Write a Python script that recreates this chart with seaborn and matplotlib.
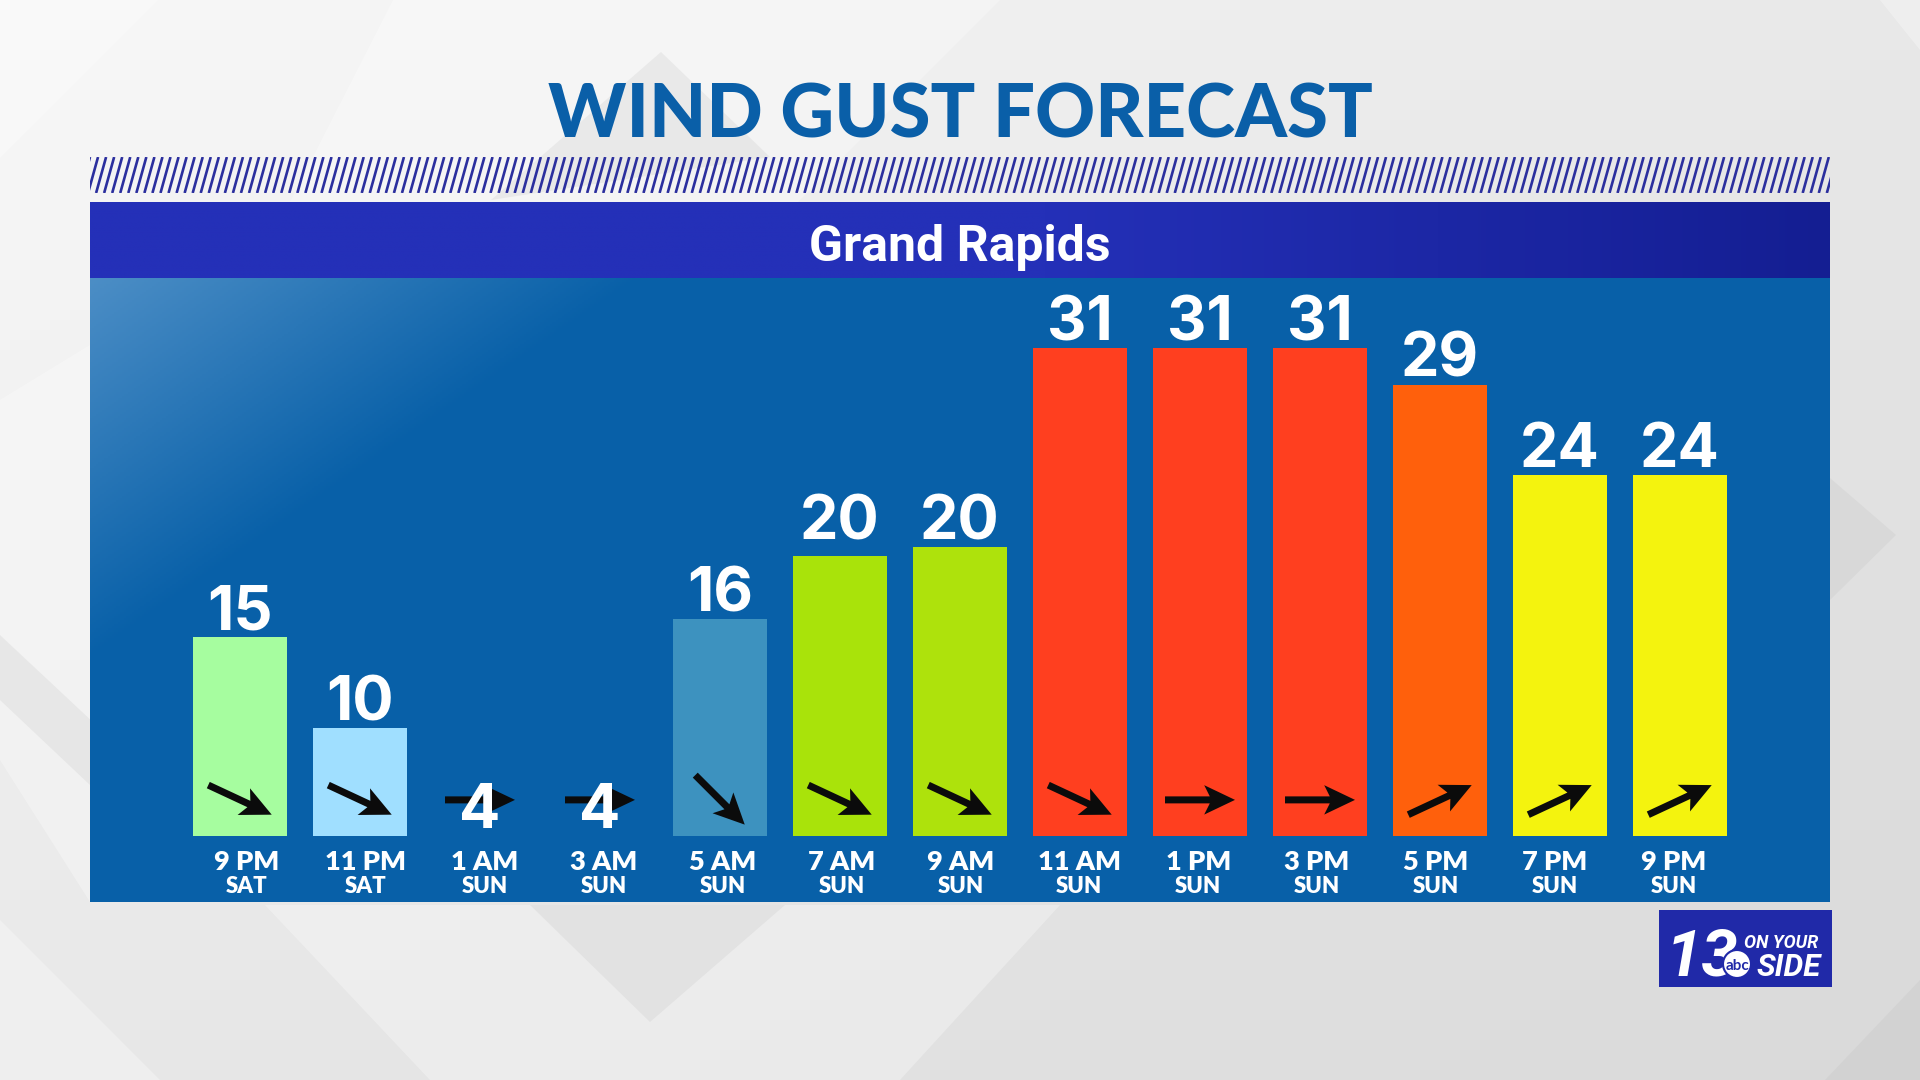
import numpy as np
import pandas as pd
import seaborn as sns
import matplotlib.pyplot as plt
from matplotlib.colors import to_rgb
from matplotlib.patches import Polygon, Rectangle, Circle

# Data
horas = ['9 PM', '11 PM', '1 AM', '3 AM', '5 AM', '7 AM', '9 AM', '11 AM', '1 PM', '3 PM', '5 PM', '7 PM', '9 PM']
dias = ['SAT', 'SAT', 'SUN', 'SUN', 'SUN', 'SUN', 'SUN', 'SUN', 'SUN', 'SUN', 'SUN', 'SUN', 'SUN']
alturas = [15, 10, 4, 4, 16, 19.5, 20, 31, 31, 31, 29, 24, 24]
etiquetas = [15, 10, 4, 4, 16, 20, 20, 31, 31, 31, 29, 24, 24]
direcciones = [-25, -25, 0, 0, -45, -25, -25, -25, 0, 0, 25, 25, 25]
colores = ['#a6fd9f', '#a0dfff', '#0860a8', '#0860a8', '#3d92bf', '#a9e30a', '#aee20c', '#ff3f1f',
           '#ff3f1f', '#ff3f1f', '#ff600c', '#f4f30e', '#f4f30e']

azul = '#0a5fa8'
fuente = ['Lato', 'DejaVu Sans']
numeros = ['Inter', 'Lato', 'DejaVu Sans']
angosta = ['Roboto', 'DejaVu Sans']

sns.set_theme(style='white')
plt.rcParams['font.family'] = fuente

fig = plt.figure(figsize=(19.2, 10.8), dpi=100)

# Background, in pixels of the picture
bg = fig.add_axes([0, 0, 1, 1])
bg.set_xlim(0, 1920)
bg.set_ylim(1080, 0)
bg.axis('off')

yy, xx = np.mgrid[0:1:108j, 0:1:192j]
t = (xx + yy) / 2
c1, c2 = np.array(to_rgb('#f8f8f8')), np.array(to_rgb('#d9d9d9'))
bg.imshow(c1 + (c2 - c1) * t[..., None], extent=(0, 1920, 1080, 0), aspect='auto', zorder=0)

claros = [[(0, 0), (158, 0), (0, 158)],
          [(393, 0), (1000, 0), (700, 300), (240, 300)],
          [(0, 400), (90, 345), (90, 902), (0, 760)],
          [(0, 920), (160, 1080), (0, 1080)],
          [(265, 905), (430, 1080), (900, 1080), (1060, 905)],
          [(1880, 0), (1920, 0), (1920, 50)]]
oscuros = [[(661, 52), (770, 157), (491, 200)],
           [(0, 635), (160, 785), (90, 785), (0, 700)],
           [(530, 905), (650, 1022), (785, 905)],
           [(1830, 478), (1896, 535), (1830, 600)],
           [(1920, 980), (1825, 1080), (1920, 1080)]]
for p in claros:
    bg.add_patch(Polygon(p, color='white', alpha=0.3, lw=0, zorder=1))
for p in oscuros:
    bg.add_patch(Polygon(p, color='#b5b5b5', alpha=0.18, lw=0, zorder=1))

# Hatched strip under the title
franja = Rectangle((90, 157), 1740, 36, fill=False, lw=0)
bg.add_patch(franja)
for x in np.arange(80, 1840, 8.05):
    linea, = bg.plot([x, x + 10], [193, 157], color='#2b2f9e', lw=1.9, zorder=2, solid_capstyle='butt')
    linea.set_clip_path(franja)

bg.text(960, 137, 'WIND GUST FORECAST', color=azul, fontsize=53.5, fontweight='black', ha='center', va='baseline', zorder=3)

# Header and panel gradients
yy, xx = np.mgrid[0:1:100j, 0:1:400j]
u = np.clip((xx - 0.55) / 0.45, 0, 1)
c1, c2 = np.array(to_rgb('#2430b8')), np.array(to_rgb('#141e92'))
bg.imshow(c1 + (c2 - c1) * u[..., None], extent=(90, 1830, 278, 202), aspect='auto', zorder=2)
bg.text(960, 261, 'Grand Rapids', color='white', fontsize=36, fontweight='bold', family=angosta, ha='center', va='baseline', zorder=3)

yy, xx = np.mgrid[0:624:312j, 0:1740:870j]
u = np.clip(1 - xx / 550 - yy / 380, 0, 1)
c1, c2 = np.array(to_rgb('#0860a8')), np.array(to_rgb('#4c8ec6'))
bg.imshow(c1 + (c2 - c1) * u[..., None], extent=(90, 1830, 902, 278), aspect='auto', zorder=2)
bg.set_xlim(0, 1920)
bg.set_ylim(1080, 0)

# Logo
bg.add_patch(Rectangle((1659, 910), 173, 77, color='#2029a8', lw=0, zorder=2))
bg.text(1738, 975, '13', color='white', fontsize=47, fontweight='bold', style='italic', family=angosta, ha='right', va='baseline', zorder=3)
bg.text(1781, 948, 'ON YOUR', color='white', fontsize=13, fontweight='bold', style='italic', family=angosta, ha='center', va='baseline', zorder=3)
bg.text(1789, 976, 'SIDE', color='white', fontsize=22.5, fontweight='bold', style='italic', family=angosta, ha='center', va='baseline', zorder=3)
bg.add_patch(Circle((1737, 964), 14, facecolor='white', edgecolor='#2029a8', lw=1.5, zorder=4))
bg.text(1737, 964, 'abc', color='#2029a8', fontsize=11, fontweight='bold', ha='center', va='center_baseline', zorder=5)

# Bars, the axis starts at 4 so that value has no height
ax = fig.add_axes([90 / 1920, (1080 - 836) / 1080, 1740 / 1920, (836 - 278) / 1080])
ax.patch.set_alpha(0)

df = pd.DataFrame({'pos': range(len(alturas)), 'altura': alturas})
sns.barplot(data=df, x='pos', y='altura', hue='pos', palette=colores, width=0.783, dodge=False,
            legend=False, saturation=1, linewidth=0, ax=ax, zorder=2)
ax.set_xlim(-1.25, 13.25)
ax.set_ylim(4, 34.9)
ax.set_xlabel('')
ax.set_ylabel('')
ax.set_xticks([])
ax.set_yticks([])
sns.despine(ax=ax, left=True, bottom=True)

# Wind arrows
rad = np.radians(direcciones)
ax.quiver(df['pos'], [6] * len(df), 70 * np.cos(rad), 70 * np.sin(rad), angles='uv', scale_units='dots', scale=1,
          units='dots', width=7, headwidth=4.2, headlength=4.4, headaxislength=3.6, pivot='mid', color='#0b0b0b', zorder=3)

# Values over the bars
for i, valor in enumerate(etiquetas):
    ax.annotate(str(valor), (i, valor), xytext=(0, 5.5), textcoords='offset points', color='white', fontsize=44,
                fontweight='bold', family=numeros, ha='center', va='baseline', zorder=4)

# Hour and day under the bars
for i, (hora, dia) in enumerate(zip(horas, dias)):
    x = 247 + i * 118.9
    bg.text(x, 870, hora, color='white', fontsize=19.5, fontweight='heavy', ha='center', va='baseline', zorder=3)
    bg.text(x, 893, dia, color='white', fontsize=16, fontweight='heavy', ha='center', va='baseline', zorder=3)

fig.savefig('out.png', dpi=100)
